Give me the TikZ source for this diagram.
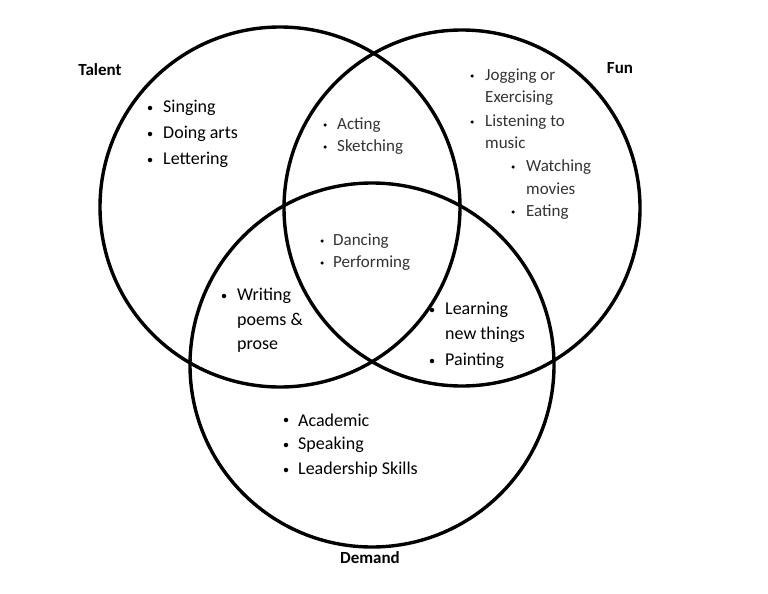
\documentclass[tikz,border=0pt]{standalone}
\usepackage{fontspec}
\setmainfont{Carlito}
\begin{document}
\begin{tikzpicture}[x=1pt,y=-1pt,
  circ/.style={draw=black,line width=3.4pt},
  ttl/.style={font=\bfseries\fontsize{17}{19}\selectfont},
  itm/.style={anchor=west,inner sep=0pt,font=\fontsize{18}{20}\selectfont},
  lt/.style={anchor=west,inner sep=0pt,font=\fontsize{17}{19}\selectfont\color{black!80}},
  bul/.style={circle,fill=black,inner sep=0pt,minimum size=4.5pt}]
\useasboundingbox (0,0) rectangle (768,594);
\draw[circ] (280,207) circle (180);
\draw[circ] (462,208) circle (178);
\draw[circ] (372,365) circle (182);
\node[ttl] (t1) at (100,70) {Talent};
\node[ttl] (t2) at (620,68) {Fun};
\node[ttl] (t3) at (370,558) {Demand};
% Talent
\foreach \y/\t [count=\i] in {108/Singing,134/Doing arts,160/Lettering}{
  \node[bul] (tb\i) at (150,\y) {}; \node[itm] (ti\i) at (163,\y) {\t};}
% Talent & Fun
\foreach \y/\t [count=\i] in {125/Acting,147/Sketching}{
  \node[bul,minimum size=3.5pt] (ab\i) at (325,\y) {}; \node[lt] (ai\i) at (337,\y) {\t};}
% Fun
\node[bul,minimum size=3.5pt] (fb1) at (472,76) {};
\node[lt] (fi1) at (485,76) {Jogging or};
\node[lt] (fi1b) at (485,98) {Exercising};
\node[bul,minimum size=3.5pt] (fb2) at (472,122) {};
\node[lt] (fi2) at (485,122) {Listening to};
\node[lt] (fi2b) at (485,143) {music};
\node[bul,minimum size=3.5pt] (fb3) at (513,167) {};
\node[lt] (fi3) at (526,167) {Watching};
\node[lt] (fi3b) at (526,189) {movies};
\node[bul,minimum size=3.5pt] (fb4) at (513,212) {};
\node[lt] (fi4) at (526,212) {Eating};
% Center
\foreach \y/\t [count=\i] in {241/Dancing,263/Performing}{
  \node[bul,minimum size=3.5pt] (cb\i) at (322,\y) {}; \node[lt] (ci\i) at (333,\y) {\t};}
% Talent & Demand
\node[bul] (wb) at (224,296) {};
\node[itm] (wi1) at (237,296) {Writing};
\node[itm] (wi2) at (237,321) {poems \&};
\node[itm] (wi3) at (237,347) {prose};
% Fun & Demand
\node[bul] (lb1) at (432,310) {};
\node[itm] (li1) at (445,310) {Learning};
\node[itm] (li1b) at (445,335) {new things};
\node[bul] (lb2) at (432,361) {};
\node[itm] (li2) at (445,361) {Painting};
% Demand
\foreach \y/\t [count=\i] in {420/Academic,445/Speaking,470/Leadership Skills}{
  \node[bul] (db\i) at (286,\y) {}; \node[itm] (di\i) at (298,\y) {\t};}
\end{tikzpicture}
\end{document}
